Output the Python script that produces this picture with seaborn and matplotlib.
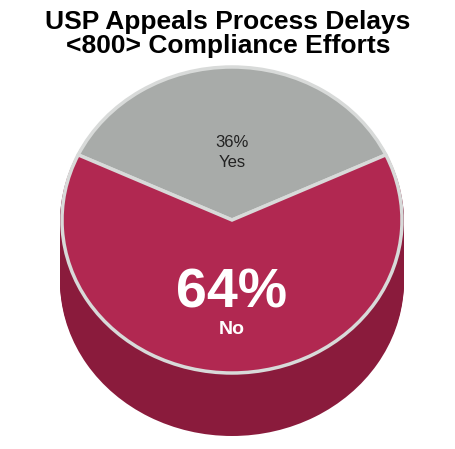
import matplotlib
matplotlib.use("Agg")
import matplotlib.pyplot as plt
import seaborn as sns

categories = ["Yes", "No"]
values = [36, 64]
top_colors = ["#A8ABA9", "#B12851"]
side_colors = ["#8C8F8D", "#8A1B3C"]

sns.set_theme(style="white")
plt.rcParams['font.family'] = ['Liberation Sans', 'DejaVu Sans']

fig = plt.figure(figsize=(4.56, 4.49), dpi=100)
ax = fig.add_axes([0, 0, 1, 1])
sy = 0.9
start = 90 - values[0] / 100 * 180
cx, cy_px = 232, 220
cy = (449 - cy_px) / sy
for d in range(68, 0, -2):
    ax.pie(values, colors=side_colors, startangle=start, radius=172,
           center=(cx, cy - d), wedgeprops=dict(linewidth=0))
ax.pie(values, colors=top_colors, startangle=start, radius=170,
       center=(cx, cy), wedgeprops=dict(linewidth=2.5, edgecolor="#D8DAD9"))
ax.set_aspect('auto')
ax.set_xlim(0, 456)
ax.set_ylim(0, 449 / sy)
ax.axis('off')

def T(x, y, s, **k):
    ax.text(x, (449 - y) / sy, s, ha='center', va='center', **k)

T(228, 34, "USP Appeals Process Delays\n<800> Compliance Efforts",
  fontsize=19, fontweight='bold', color='black', linespacing=1.05)
T(232, 143, "36%", fontsize=12, color='#222222')
T(232, 163, "Yes", fontsize=12, color='#222222')
T(232, 293, "64%", fontsize=40, fontweight='bold', color='white')
T(232, 330, "No", fontsize=14, fontweight='bold', color='white')
fig.savefig("out.png", dpi=100)
